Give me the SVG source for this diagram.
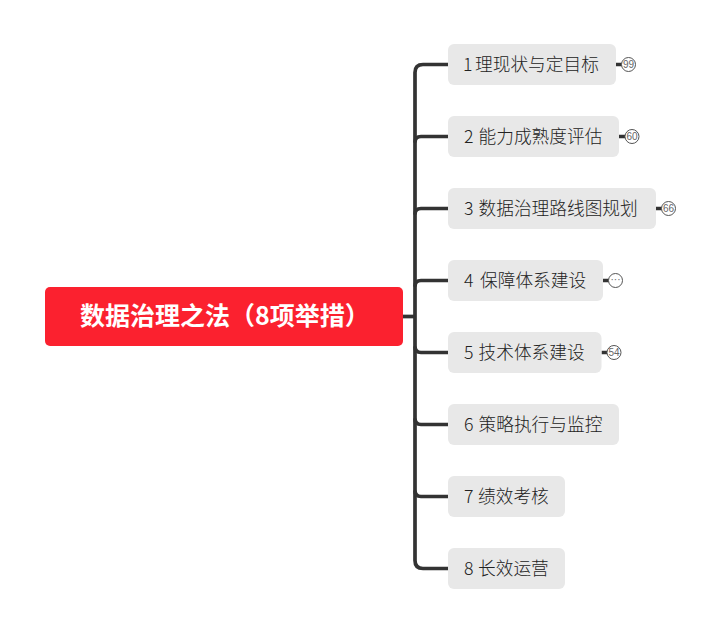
<svg xmlns="http://www.w3.org/2000/svg" width="720" height="633" viewBox="0 0 720 633">
<style>
.cjk{font-family:"Noto Sans CJK SC","Noto Sans",sans-serif}
.n rect{fill:#e8e8e8}
.n text{font-family:"Noto Sans CJK SC","Noto Sans",sans-serif;font-size:17.700px;font-weight:300;fill:#222}
.c{fill:none;stroke:#333;stroke-width:3.700}
.b circle{fill:#fff;stroke:#555;stroke-width:1}
.b text{font-family:"Liberation Sans",sans-serif;font-size:10px;fill:#666;text-anchor:middle}
</style>
<rect width="720" height="633" fill="#fff"/>
<g id="connectors">
<path class="c" d="M403 316.500H415"/>
<path class="c" d="M448 64.500H423Q415 64.500 415 72.500V560.500Q415 568.500 423 568.500H448"/>
<path class="c" d="M448 136.500H421Q415 136.500 415 142.500M448 208.500H421Q415 208.500 415 214.500M448 280.500H421Q415 280.500 415 286.500M448 352.500H421Q415 352.500 415 346.500M448 424.500H421Q415 424.500 415 418.500M448 496.500H421Q415 496.500 415 490.500"/>
<path class="c" d="M616 64.500H622M619 136.500H625M656 208.500H662M603 280.500H609M601.500 352.500H607"/>
</g>
<g id="root"><rect x="45" y="287" width="358" height="59" rx="5" fill="#fb212f"/><text class="cjk" x="80" y="325" font-size="25" font-weight="700" fill="#fff">数据治理之法（8项举措）</text></g>
<g id="node1" class="n"><rect x="448" y="44" width="168" height="41" rx="6"/><text x="463" y="71">1<tspan x="475">理现状与定目标</tspan></text></g>
<g id="node2" class="n"><rect x="448" y="116" width="171" height="41" rx="6"/><text x="464" y="143">2<tspan x="478.500">能力成熟度评估</tspan></text></g>
<g id="node3" class="n"><rect x="448" y="188" width="208" height="41" rx="6"/><text x="464" y="215">3<tspan x="478.500">数据治理路线图规划</tspan></text></g>
<g id="node4" class="n"><rect x="448" y="260" width="155" height="41" rx="6"/><text x="464" y="287">4<tspan x="480">保障体系建设</tspan></text></g>
<g id="node5" class="n"><rect x="448" y="332" width="153.500" height="41" rx="6"/><text x="464" y="359">5<tspan x="478.500">技术体系建设</tspan></text></g>
<g id="node6" class="n"><rect x="448" y="404" width="171" height="41" rx="6"/><text x="464" y="431">6<tspan x="478.500">策略执行与监控</tspan></text></g>
<g id="node7" class="n"><rect x="448" y="476" width="117" height="41" rx="6"/><text x="464" y="503">7<tspan x="478">绩效考核</tspan></text></g>
<g id="node8" class="n"><rect x="448" y="548" width="117" height="41" rx="6"/><text x="464" y="575">8<tspan x="478">长效运营</tspan></text></g>
<g id="badge1" class="b"><circle cx="628.500" cy="64.500" r="7"/><text x="628.500" y="68">99</text></g>
<g id="badge2" class="b"><circle cx="632" cy="136.500" r="7"/><text x="632" y="140">60</text></g>
<g id="badge3" class="b"><circle cx="668.500" cy="208.500" r="7"/><text x="668.500" y="212">66</text></g>
<g id="badge4" class="b"><circle cx="615.500" cy="280.500" r="7"/><text x="615.500" y="283">···</text></g>
<g id="badge5" class="b"><circle cx="614" cy="352.500" r="7"/><text x="614" y="356">54</text></g>
</svg>
